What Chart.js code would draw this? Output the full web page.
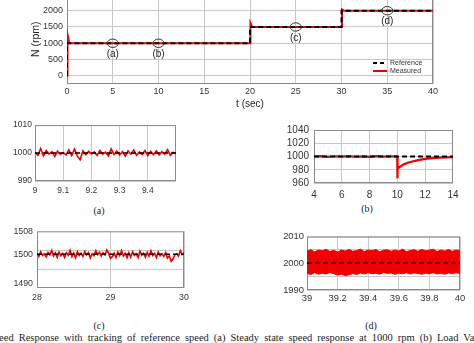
<!DOCTYPE html>
<html>
<head>
<meta charset="utf-8">
<script src="https://cdn.jsdelivr.net/npm/chart.js@4.4.1/dist/chart.umd.min.js"></script>
<style>
  body { margin: 0; background: #fff; width: 474px; height: 343px; overflow: hidden; position: relative; }
  canvas { position: absolute; }
  .lbl { position: absolute; font: 10px "Liberation Serif", "Times New Roman", serif; color: #222; transform: translate(-50%, -50%); white-space: nowrap; }
  #caption { position: absolute; left: -12px; top: 332px; font: 10.5px "Liberation Serif", "Times New Roman", serif; color: #222; white-space: nowrap; word-spacing: 2.4px; }
</style>
</head>
<body>
<canvas id="main"></canvas>
<canvas id="subA"></canvas>
<canvas id="subB"></canvas>
<canvas id="subC"></canvas>
<canvas id="subD"></canvas>
<div class="lbl" style="left:99px;top:210px">(a)</div>
<div class="lbl" style="left:367px;top:208px">(b)</div>
<div class="lbl" style="left:99px;top:325px">(c)</div>
<div class="lbl" style="left:371px;top:325px">(d)</div>
<div id="caption">Speed Response with tracking of reference speed (a) Steady state speed response at 1000 rpm (b) Load Variation</div>

<script>
// ---- data ----
var seriesNames = ['Reference', 'Measured'];

// full run
var mainXTicks = [0, 5, 10, 15, 20, 25, 30, 35, 40];
var mainYTicks = [0, 500, 1000, 1500, 2000, 2500];
var refT = [0, 0, 20, 20, 30, 30, 40];
var refN = [0, 1000, 1000, 1500, 1500, 2000, 2000];
var measT = [0, 0.05, 0.25, 0.6, 20, 20.05, 20.25, 20.6, 30, 30.05, 30.25, 30.6, 40];
var measN = [0, 1270, 1000, 1000, 1000, 1620, 1500, 1500, 1500, 2040, 2000, 2000, 2000];
var markT = [5, 10, 25, 35];
var markN = [1000, 1000, 1500, 2000];
var markLbl = ['(a)', '(b)', '(c)', '(d)'];

// (a) steady state at 1000 rpm
var aXTicks = [9, 9.1, 9.2, 9.3, 9.4];
var aYTicks = [990, 1000, 1010];
var aRefT = [9, 9.5];
var aRefN = [1000, 1000];
var aT = [9.00, 9.01, 9.02, 9.03, 9.04, 9.05, 9.06, 9.07, 9.08, 9.09,
          9.10, 9.11, 9.12, 9.13, 9.14, 9.15, 9.16, 9.17, 9.18, 9.19,
          9.20, 9.21, 9.22, 9.23, 9.24, 9.25, 9.26, 9.27, 9.28, 9.29,
          9.30, 9.31, 9.32, 9.33, 9.34, 9.35, 9.36, 9.37, 9.38, 9.39,
          9.40, 9.41, 9.42, 9.43, 9.44, 9.45, 9.46, 9.47, 9.48, 9.49, 9.50];
var aN = [1000.3, 999.2, 1001.6, 999.0, 1000.9, 999.6, 1000.5, 998.8, 1000.7, 999.5,
          1000.2, 999.3, 1001.2, 999.1, 1001.4, 998.9, 997.6, 1000.8, 999.4, 1000.6,
          999.7, 1000.4, 999.2, 1000.9, 999.6, 1000.3, 999.0, 1001.5, 999.5, 1000.7,
          999.3, 1000.5, 998.9, 1000.8, 999.6, 1001.1, 999.2, 1000.4, 999.5, 1000.9,
          999.1, 1000.6, 999.4, 1000.8, 999.3, 1000.5, 999.6, 1001.2, 999.2, 1000.3, 999.7];

// (b) load variation
var bXTicks = [4, 6, 8, 10, 12, 14];
var bYTicks = [960, 980, 1000, 1020, 1040];
var bRefT = [4, 14];
var bRefN = [1000, 1000];
var bT = [4, 4.5, 5, 5.5, 6, 6.5, 7, 7.5, 8, 8.5, 9, 9.5, 9.99, 10.0, 10.02, 10.1, 10.25, 10.5, 10.75, 11, 11.5, 12, 12.5, 13, 13.5, 14];
var bN = [1000, 1000.6, 999.5, 1000.4, 999.7, 1000.5, 999.6, 1000.3, 999.5, 1000.6, 999.7, 1000.4, 1000, 967, 981, 983, 985.5, 988.5, 990.5, 992, 994.5, 996.5, 997.5, 998.3, 998.8, 999.2];

// (c) steady state at 1500 rpm
var cXTicks = [28, 29, 30];
var cYTicks = [1490, 1494.7, 1500, 1501.5, 1508];
var cYLabels = [1490, 1500, 1508];
var cYGrid = [1494.7, 1501.5];
var cRefT = [28, 30];
var cRefN = [1500, 1500];
var cT = [28.000, 28.025, 28.050, 28.075, 28.100, 28.125, 28.150, 28.175, 28.200, 28.225,
          28.250, 28.275, 28.300, 28.325, 28.350, 28.375, 28.400, 28.425, 28.450, 28.475,
          28.500, 28.525, 28.550, 28.575, 28.600, 28.625, 28.650, 28.675, 28.700, 28.725,
          28.750, 28.775, 28.800, 28.825, 28.850, 28.875, 28.900, 28.925, 28.950, 28.975,
          29.000, 29.025, 29.050, 29.075, 29.100, 29.125, 29.150, 29.175, 29.200, 29.225,
          29.250, 29.275, 29.300, 29.325, 29.350, 29.375, 29.400, 29.425, 29.450, 29.475,
          29.500, 29.525, 29.550, 29.575, 29.600, 29.625, 29.650, 29.675, 29.700, 29.725,
          29.750, 29.775, 29.800, 29.825, 29.850, 29.875, 29.900, 29.925, 29.950, 29.975, 30.000];
var cN = [1500.4, 1499.3, 1500.9, 1499.6, 1500.2, 1499.1, 1500.7, 1499.8, 1501.3, 1499.4,
          1500.5, 1499.0, 1500.8, 1499.5, 1500.3, 1498.9, 1500.6, 1499.7, 1501.4, 1499.2,
          1500.5, 1498.8, 1500.9, 1499.6, 1500.4, 1499.3, 1501.0, 1499.8, 1500.6, 1498.7,
          1500.2, 1499.5, 1501.2, 1499.9, 1500.7, 1499.4, 1500.5, 1499.8, 1501.5, 1500.3,
          1498.6, 1499.2, 1500.4, 1498.9, 1500.8, 1499.5, 1501.3, 1499.4, 1500.3, 1498.8,
          1500.6, 1499.1, 1500.9, 1499.6, 1500.2, 1498.9, 1501.1, 1499.7, 1500.4, 1499.0,
          1500.7, 1499.4, 1501.2, 1499.6, 1500.3, 1498.9, 1500.8, 1499.5, 1500.2, 1499.3,
          1500.6, 1498.7, 1499.5, 1497.6, 1498.4, 1499.8, 1500.2, 1499.4, 1501.3, 1499.9, 1500.5];

// (d) steady state at 2000 rpm (upper / lower edge of the ripple band)
var dXTicks = [39, 39.2, 39.4, 39.6, 39.8, 40];
var dYTicks = [1990, 1995, 2000, 2005, 2010];
var dYLabels = [1990, 2000, 2010];
var dRefT = [39, 40];
var dRefN = [2000, 2000];
var dT = [39.000, 39.025, 39.050, 39.075, 39.100, 39.125, 39.150, 39.175, 39.200, 39.225,
          39.250, 39.275, 39.300, 39.325, 39.350, 39.375, 39.400, 39.425, 39.450, 39.475,
          39.500, 39.525, 39.550, 39.575, 39.600, 39.625, 39.650, 39.675, 39.700, 39.725,
          39.750, 39.775, 39.800, 39.825, 39.850, 39.875, 39.900, 39.925, 39.950, 39.975, 40.000];
var dHi = [2004.6, 2005.1, 2004.3, 2005.0, 2004.7, 2005.3, 2004.4, 2004.9, 2004.2, 2005.0,
           2004.6, 2005.2, 2004.5, 2004.8, 2005.3, 2004.4, 2005.0, 2004.7, 2005.2, 2004.3,
           2004.9, 2005.1, 2004.5, 2005.0, 2004.6, 2005.3, 2004.4, 2004.8, 2005.1, 2004.5,
           2005.2, 2004.7, 2004.9, 2005.3, 2004.4, 2005.0, 2004.6, 2005.2, 2004.5, 2005.0, 2004.7];
var dLo = [1996.2, 1995.8, 1996.5, 1995.9, 1996.3, 1996.0, 1996.6, 1996.1, 1995.6, 1995.9,
           1995.4, 1995.7, 1996.2, 1995.8, 1996.4, 1996.0, 1996.5, 1996.1, 1996.3, 1995.9,
           1996.6, 1996.2, 1996.4, 1995.9, 1996.3, 1996.1, 1996.5, 1996.0, 1996.4, 1996.2,
           1995.9, 1996.3, 1996.1, 1996.5, 1996.0, 1996.3, 1995.9, 1996.4, 1996.1, 1996.5, 1996.2];

// ---- helpers ----
var FONT = '"Liberation Sans", Arial, sans-serif';
var RED = '#ee0000';
var GRID = '#c8c8c8';

function pts(xs, ys) {
  return xs.map(function(x, i) { return {x: x, y: ys[i]}; });
}

// axes box drawn under the data
var framePlugin = {
  id: 'frame',
  beforeDatasetsDraw: function(chart) {
    var a = chart.chartArea, ctx = chart.ctx;
    ctx.save();
    ctx.strokeStyle = '#8a8a8a';
    ctx.lineWidth = 1;
    ctx.strokeRect(a.left + 0.5, a.top + 0.5, a.right - a.left - 1, a.bottom - a.top - 1);
    ctx.restore();
  }
};

function refSet(xs, ys, w) {
  return {label: seriesNames[0], data: pts(xs, ys), borderColor: '#000', borderWidth: w,
          borderDash: [5, 3], pointRadius: 0, fill: false, tension: 0};
}
function measSet(xs, ys, w) {
  return {label: seriesNames[1], data: pts(xs, ys), borderColor: RED, borderWidth: w,
          pointRadius: 0, fill: false, tension: 0};
}

// r = plot area on the page, o = axis settings
function makeChart(id, r, o) {
  var padL = 2, padT = 7, padR = 12, padB = 2;
  var cv = document.getElementById(id);
  cv.width = (r.r - r.l) + o.yw + padL + padR;
  cv.height = (r.b - r.t) + o.xh + padT + padB;
  cv.style.left = (r.l - o.yw - padL) + 'px';
  cv.style.top = (r.t - padT) + 'px';

  var xLabels = o.xLabels || o.xTicks, yLabels = o.yLabels || o.yTicks;
  var xGrid = o.xGrid || o.xTicks, yGrid = o.yGrid || o.yTicks;

  function axis(ticks, labels, grid, min, max, size, pad, title) {
    return {
      type: 'linear', min: min, max: max,
      afterBuildTicks: function(s) { s.ticks = ticks.map(function(v) { return {value: v}; }); },
      ticks: {
        autoSkip: false, maxRotation: 0, padding: pad, color: '#333',
        font: {family: FONT, size: o.font},
        callback: function(v) { return labels.indexOf(v) >= 0 ? String(v) : ''; }
      },
      grid: {
        drawTicks: false, lineWidth: 1,
        color: function(c) { return c.tick && grid.indexOf(c.tick.value) >= 0 ? GRID : 'rgba(0,0,0,0)'; }
      },
      border: {display: false},
      title: title || {display: false}
    };
  }

  var xAxis = axis(o.xTicks, xLabels, xGrid, o.xMin, o.xMax, o.font, o.xPad, o.xTitle);
  xAxis.afterFit = function(s) { s.height = o.xh; };
  var yAxis = axis(o.yTicks, yLabels, yGrid, o.yMin, o.yMax, o.font, o.yPad, o.yTitle);
  yAxis.afterFit = function(s) { s.width = o.yw; };

  return new Chart(cv, {
    type: 'line',
    data: {datasets: o.datasets},
    options: {
      responsive: false,
      animation: false,
      layout: {padding: {left: padL, top: padT, right: padR, bottom: padB}},
      plugins: {legend: {display: false}, tooltip: {enabled: false}},
      scales: {x: xAxis, y: yAxis}
    },
    plugins: [framePlugin].concat(o.plugins || [])
  });
}

// circles with (a)-(d) and the small legend of the full run
var mainMarks = {
  id: 'mainMarks',
  afterDatasetsDraw: function(chart) {
    var ctx = chart.ctx, xs = chart.scales.x, ys = chart.scales.y, a = chart.chartArea;
    ctx.save();
    ctx.strokeStyle = '#333';
    ctx.lineWidth = 1;
    ctx.fillStyle = '#222';
    ctx.font = '10px ' + FONT;
    ctx.textAlign = 'center';
    ctx.textBaseline = 'middle';
    markT.forEach(function(t, i) {
      var px = xs.getPixelForValue(t), py = ys.getPixelForValue(markN[i]);
      ctx.beginPath();
      ctx.ellipse(px, py, 5.5, 4.2, 0, 0, 2 * Math.PI);
      ctx.stroke();
      ctx.fillText(markLbl[i], px, py + 11);
    });

    var lx = a.right - 60, y1 = a.bottom - 21, y2 = a.bottom - 13;
    ctx.lineWidth = 2;
    ctx.strokeStyle = '#000';
    ctx.setLineDash([4, 3]);
    ctx.beginPath(); ctx.moveTo(lx, y1); ctx.lineTo(lx + 14, y1); ctx.stroke();
    ctx.setLineDash([]);
    ctx.strokeStyle = RED;
    ctx.beginPath(); ctx.moveTo(lx, y2); ctx.lineTo(lx + 14, y2); ctx.stroke();
    ctx.font = '7px ' + FONT;
    ctx.fillStyle = '#333';
    ctx.textAlign = 'left';
    ctx.fillText(seriesNames[0], lx + 17, y1);
    ctx.fillText(seriesNames[1], lx + 17, y2);
    ctx.restore();
  }
};

// ---- charts ----
makeChart('main', {l: 67, t: -8, r: 433, b: 84}, {
  xMin: 0, xMax: 40, yMin: -250, yMax: 2500,
  xTicks: mainXTicks, yTicks: mainYTicks,
  font: 9, xPad: 2, yPad: 4, yw: 67, xh: 26,
  xTitle: {display: true, text: 't (sec)', color: '#222', font: {family: FONT, size: 10}, padding: {top: 0, bottom: 0}},
  yTitle: {display: true, text: 'N (rpm)', color: '#222', font: {family: FONT, size: 10.5}, padding: {top: 29.7, bottom: 0}},
  datasets: [refSet(refT, refN, 2), measSet(measT, measN, 2)],
  plugins: [mainMarks]
});

makeChart('subA', {l: 35, t: 124, r: 176, b: 181}, {
  xMin: 9, xMax: 9.5, yMin: 990, yMax: 1010,
  xTicks: aXTicks, yTicks: aYTicks,
  font: 8.5, xPad: 5, yPad: 3, yw: 35, xh: 14,
  datasets: [refSet(aRefT, aRefN, 1.5), measSet(aT, aN, 1.6)]
});

makeChart('subB', {l: 314, t: 126, r: 453, b: 183}, {
  xMin: 4, xMax: 14, yMin: 960, yMax: 1040,
  xTicks: bXTicks, yTicks: bYTicks,
  font: 10, xPad: 6.5, yPad: 5, yw: 40, xh: 16,
  datasets: [refSet(bRefT, bRefN, 1.8), measSet(bT, bN, 2.2)]
});

makeChart('subC', {l: 37, t: 229, r: 184, b: 288}, {
  xMin: 28, xMax: 30, yMin: 1508 - 59 / 3, yMax: 1508,
  xTicks: cXTicks, yTicks: cYTicks, yLabels: cYLabels, yGrid: cYGrid,
  font: 8.8, xPad: 4.7, yPad: 4, yw: 37, xh: 14,
  datasets: [refSet(cRefT, cRefN, 1.5), measSet(cT, cN, 1.6)]
});

var dBand = {label: seriesNames[1], data: pts(dT, dHi), borderColor: '#f00000', backgroundColor: '#f00000',
             borderWidth: 1, pointRadius: 0, fill: '+1', tension: 0};
var dBandLo = {label: seriesNames[1], data: pts(dT, dLo), borderColor: '#f00000',
               borderWidth: 1, pointRadius: 0, fill: false, tension: 0};
makeChart('subD', {l: 307, t: 235, r: 460, b: 290}, {
  xMin: 39, xMax: 40, yMin: 1990, yMax: 2010,
  xTicks: dXTicks, yTicks: dYTicks, yLabels: dYLabels,
  font: 9.4, xPad: 3, yPad: 3, yw: 37, xh: 14,
  datasets: [refSet(dRefT, dRefN, 1.5), dBand, dBandLo]
});
</script>
</body>
</html>
